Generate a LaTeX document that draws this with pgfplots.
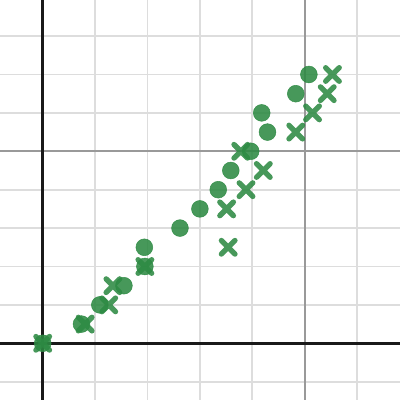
\documentclass[border=0pt]{standalone}
\usepackage{pgfplots}
\pgfplotsset{compat=1.18}
\definecolor{dgreen}{HTML}{2D8A43}
\definecolor{minorgrid}{HTML}{DDDDDD}
\definecolor{majorgrid}{HTML}{999999}
\begin{document}
\begin{tikzpicture}
\begin{axis}[
  width=300pt, height=300pt, scale only axis,
  xmin=-0.815, xmax=6.819, ymin=-1.477, ymax=8.940,
  axis line style={draw=none},
  xtick={-1,1,2,3,4,6}, ytick={-1,1,2,3,4,6,7,8},
  xticklabels={}, yticklabels={},
  major tick length=0pt,
  grid=major,
  major grid style={draw=minorgrid, line width=1.4pt},
  clip=false,
]
\draw[majorgrid, line width=1.4pt] (axis cs:5,-1.477) -- (axis cs:5,8.940);
\draw[majorgrid, line width=1.4pt] (axis cs:-0.815,5) -- (axis cs:6.819,5);
\draw[black!90, line width=2.2pt] (axis cs:0,-1.477) -- (axis cs:0,8.940);
\draw[black!90, line width=2.2pt] (axis cs:-0.815,0) -- (axis cs:6.819,0);
\addplot[dgreen, only marks, mark=*, mark size=6.3pt, mark options={draw=dgreen, fill=dgreen, fill opacity=0.88, draw opacity=0.88, line width=0.4pt}] coordinates {
(0,0) (0.74,0.5) (1.09,1) (1.55,1.5) (1.95,2) (1.94,2.5) (2.62,3) (3.00,3.5)
(3.35,4) (3.59,4.5) (3.97,5) (4.29,5.5) (4.18,6) (4.83,6.5) (5.08,7)
};
\addplot[dgreen, only marks, mark=x, mark size=7.2pt, line width=4pt, mark options={draw=dgreen, line width=4pt, line cap=round, draw opacity=0.88}] coordinates {
(0,0) (0.81,0.5) (1.26,1) (1.34,1.5) (1.95,2) (3.54,2.5) (3.51,3.5) (3.88,4)
(4.21,4.5) (3.78,5) (4.83,5.5) (5.15,6) (5.43,6.5) (5.53,7)
};
\end{axis}
\pgfresetboundingbox
\path (0,0) rectangle (300pt,300pt);
\end{tikzpicture}
\end{document}
